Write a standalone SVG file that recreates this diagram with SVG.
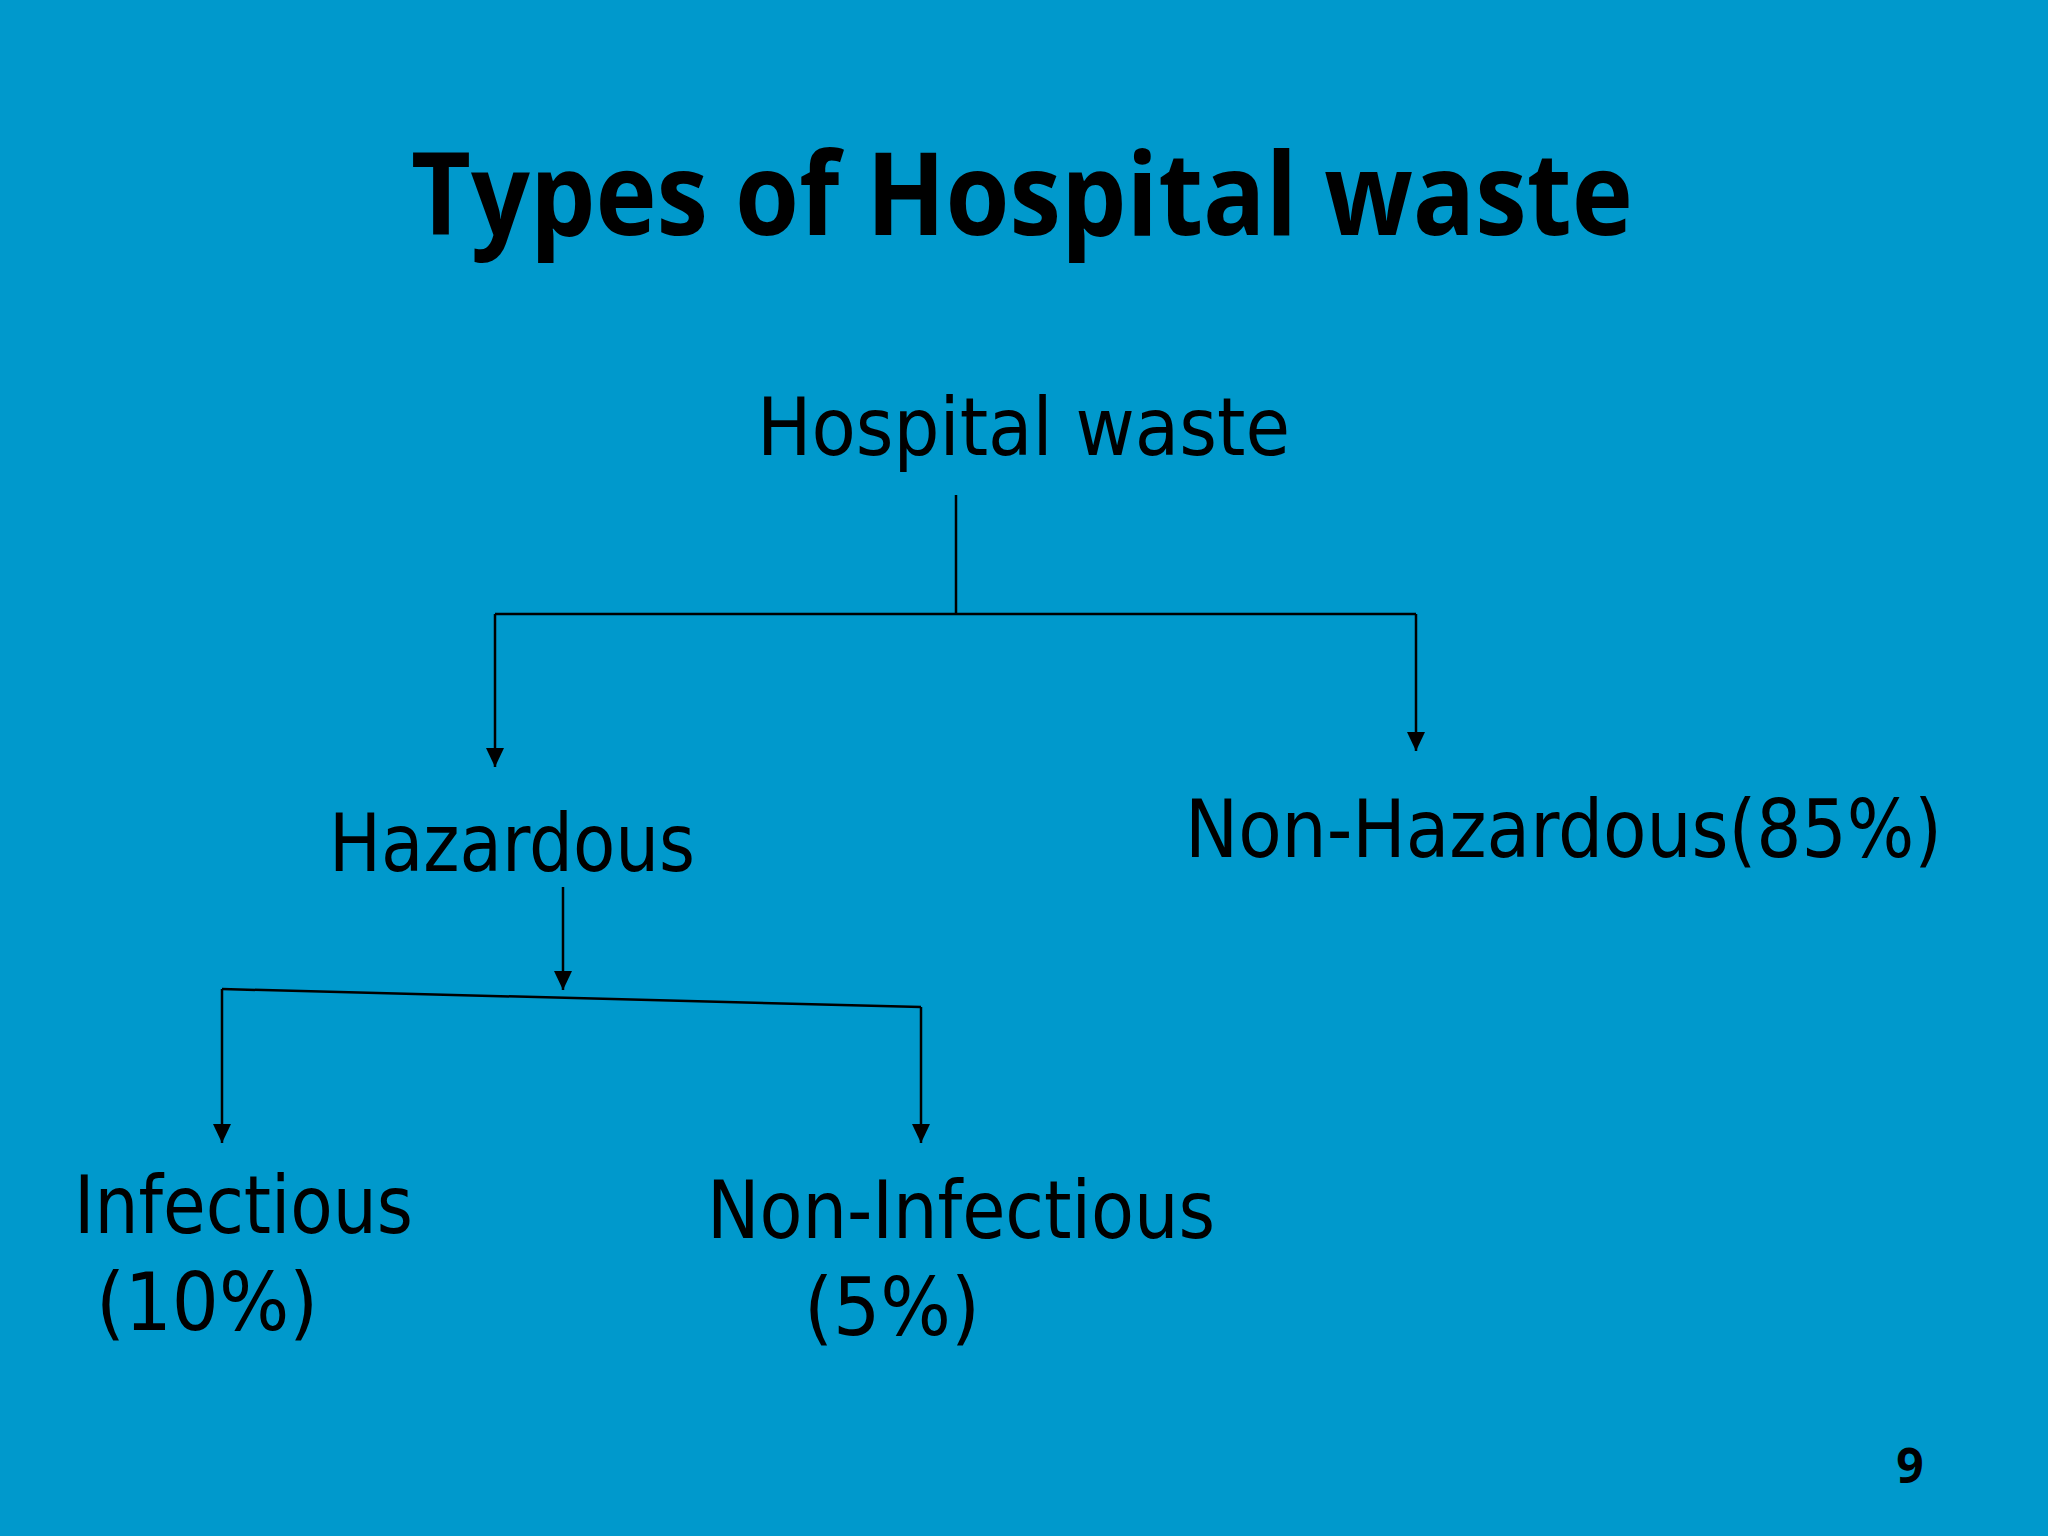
<svg xmlns="http://www.w3.org/2000/svg" width="2048" height="1536" viewBox="0 0 2048 1536">
<defs>
<marker id="arr" markerWidth="19" markerHeight="18" refX="19" refY="9" orient="auto" markerUnits="userSpaceOnUse" viewBox="0 0 19 18">
<path d="M0,0 L19,9 L0,18 Z" fill="#000"/>
</marker>
<style>
.title{font-family:"Open Sans","Liberation Sans",sans-serif;font-weight:bold;font-size:114px;fill:#000}
.lbl{font-family:"DejaVu Sans","Liberation Sans",sans-serif;font-stretch:condensed;font-size:80px;fill:#000}
.pg{font-family:"Open Sans","Liberation Sans",sans-serif;font-weight:bold;font-size:48px;fill:#000}
.ln{stroke:#000;stroke-width:2.5;fill:none}
.ar{stroke:#000;stroke-width:2.5;fill:none}
</style>
</defs>
<rect width="2048" height="1536" fill="#0099cc"/>
<text class="title" x="411" y="235" textLength="1222" lengthAdjust="spacingAndGlyphs">Types of Hospital waste</text>
<g id="connectors">
<line class="ln" x1="956" y1="495" x2="956" y2="614"/>
<line class="ln" x1="495" y1="614" x2="1416" y2="614"/>
<path class="ar" d="M495,614 V767" marker-end="url(#arr)"/>
<path class="ar" d="M1416,614 V751" marker-end="url(#arr)"/>
<path class="ar" d="M563,887 V990" marker-end="url(#arr)"/>
<line class="ln" x1="222" y1="989" x2="921" y2="1007"/>
<path class="ar" d="M222,989 V1143" marker-end="url(#arr)"/>
<path class="ar" d="M921,1007 V1143" marker-end="url(#arr)"/>
</g>
<g id="node-hospital-waste">
<text class="lbl" x="757" y="455" textLength="533" lengthAdjust="spacingAndGlyphs">Hospital waste</text>
</g>
<g id="node-hazardous">
<text class="lbl" x="329" y="871" textLength="366" lengthAdjust="spacingAndGlyphs">Hazardous</text>
</g>
<g id="node-non-hazardous">
<text class="lbl" x="1185" y="857" textLength="757" lengthAdjust="spacingAndGlyphs">Non-Hazardous(85%)</text>
</g>
<g id="node-infectious">
<text class="lbl" x="74" y="1233" textLength="339" lengthAdjust="spacingAndGlyphs">Infectious</text>
<text class="lbl" x="96" y="1330" textLength="222" lengthAdjust="spacingAndGlyphs">(10%)</text>
</g>
<g id="node-non-infectious">
<text class="lbl" x="707" y="1238" textLength="508" lengthAdjust="spacingAndGlyphs">Non-Infectious</text>
<text class="lbl" x="804" y="1335" textLength="176" lengthAdjust="spacingAndGlyphs">(5%)</text>
</g>
<text class="pg" x="1910" y="1483" text-anchor="middle">9</text>
</svg>
